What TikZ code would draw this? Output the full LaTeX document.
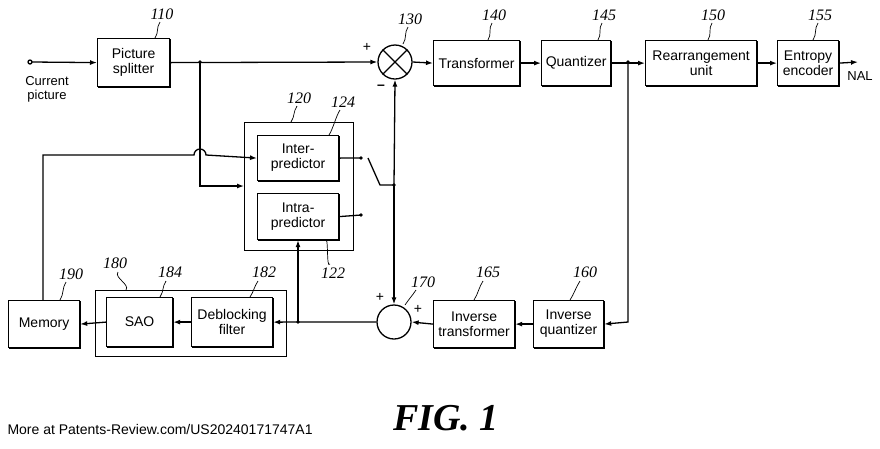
\documentclass[tikz,border=0pt]{standalone}
\usepackage{fontspec}
\setmainfont{Liberation Sans}
\newfontfamily\numfont{Liberation Serif}
\usetikzlibrary{arrows.meta,calc}
\begin{document}
\begin{tikzpicture}[x=1pt,y=-1pt,
  blk/.style={draw,line width=1.2pt,fill=white,align=center,font=\fontsize{14}{15}\selectfont,inner sep=1pt},
  ln/.style={line width=1.3pt},
  grp/.style={line width=0.8pt},
  ar/.style={ln,-{Latex[length=7pt,width=5pt]}},
  num/.style={font=\numfont\itshape\fontsize{16}{16}\selectfont},
  lead/.style={line width=0.7pt}]
\useasboundingbox (0,0) rectangle (880,448);
\newcommand{\mybox}[6]{%
 \draw[line width=2.6pt] (#1+1,#4) -- (#3,#4) -- (#3,#2+1);
 \node[blk,minimum width=#3-#1-1,minimum height=#4-#2-1,anchor=north west] (#5) at (#1,#2) {#6};}
% outer group boxes
\draw[grp] (244,122) rectangle (353,250);
\draw[grp] (95,290) rectangle (286,356);
\mybox{97}{38}{170}{87}{ps}{Picture\\splitter}
\mybox{433}{40}{520}{86}{tr}{Transformer}
\mybox{541}{40}{611}{86}{qu}{Quantizer}
\mybox{645}{40}{757}{86}{ra}{Rearrangement\\unit}
\mybox{777}{40}{839}{86}{ee}{Entropy\\encoder}
\mybox{257}{135}{339}{181}{inter}{Inter-\\predictor}
\mybox{257}{193}{339}{240}{intra}{Intra-\\predictor}
\mybox{433}{300}{515}{348}{it}{Inverse\\transformer}
\mybox{533}{300}{604}{348}{iq}{Inverse\\quantizer}
\mybox{191}{297}{273}{347}{db}{Deblocking\\filter}
\mybox{106}{297}{173}{347}{sao}{SAO}
\mybox{8}{300}{80}{348}{mem}{Memory}
% circles
\node[draw,ln,circle,minimum size=34pt,inner sep=0] (mul) at (395,62) {};
\draw[ln] (mul.north west) -- (mul.south east) (mul.north east) -- (mul.south west);
\node[draw,ln,circle,minimum size=34pt,inner sep=0] (add) at (394,322) {};
% input
\coordinate (in) at (30,62);
\draw[ln] (in) circle (2pt);
\node[font=\fontsize{13}{14}\selectfont,align=center] at (47,89) {Current\\picture};
\draw[ar] (32,62) -- (ps.west);
\coordinate (j1) at (200,62);
\fill (j1) circle (1.8pt);
\draw[ar] (ps.east) -- (mul.west);
\draw[ar] (mul.east) -- (tr.west);
\draw[ar] (tr.east) -- (qu.west);
\draw[ar] (qu.east) -- (ra.west);
\draw[ar] (ra.east) -- (ee.west);
\coordinate (out) at (858,62);
\draw[ar] (ee.east) -- (out);
\node[font=\fontsize{13}{14}\selectfont] at (860,76) {NAL};
% splitter to predictor
\draw[ar] (j1) -- (200,186) -- (244,186);
% memory to inter
\draw[ar] (mem.north -| 43,300) -- (43,155) -- (194,155) arc[start angle=180,end angle=0,radius=6pt] -- (inter.west);
% switch
\coordinate (s1) at (361,158); \coordinate (s2) at (361,215);
\draw[ln] (inter.east) -- (s1); \fill (s1) circle (1.8pt);
\draw[ln] (intra.east) -- (s2); \fill (s2) circle (1.8pt);
\coordinate (sw) at (394,185);
\draw[ln] (368,158) -- (380,185) -- (sw);
\fill (sw) circle (1.8pt);
\draw[ar] (sw) -- (mul.south);
\draw[ar] (sw) -- (add.north);
% feedback
\coordinate (j2) at (628,62); \fill (j2) circle (1.8pt);
\draw[ar] (j2) -- (628,322) -- (iq.east);
\draw[ar] (iq.west) -- (it.east);
\draw[ar] (it.west) -- (add.east);
\coordinate (j3) at (298,322); \fill (j3) circle (1.8pt);
\draw[ar] (add.west) -- (db.east);
\draw[ar] (j3) -- (intra.south -| 298,240);
\draw[ar] (db.west) -- (sao.east);
\draw[ar] (sao.west) -- (mem.east);
% signs
\node[font=\fontsize{14}{14}\selectfont] at (367,47) {+};
\node[font=\fontsize{14}{14}\selectfont] at (381,87) {\textbf{--}};
\node[font=\fontsize{14}{14}\selectfont] at (380,297) {+};
\node[font=\fontsize{14}{14}\selectfont] at (418,309) {+};
% reference numerals
\newcommand{\refn}[5]{\node[num] at (#1,#2) {#3};
 \draw[lead] (#4) .. controls ($(#4)+(4,-6)$) and ($(#5)+(-4,6)$) .. (#5);}
\refn{162}{14}{110}{155,38}{160,22}
\refn{410}{19}{130}{403,44}{408,27}
\refn{494}{15}{140}{488,40}{492,23}
\refn{604}{15}{145}{598,40}{602,23}
\refn{713}{15}{150}{708,40}{712,23}
\refn{820}{15}{155}{813,40}{818,23}
\refn{299}{98}{120}{291,122}{297,106}
\refn{343}{102}{124}{329,135}{340,110}
\refn{333}{273}{122}{325,240}{330,264}
\refn{71}{274}{190}{60,300}{66,282}
\refn{115}{263}{180}{126,290}{118,272}
\refn{170}{272}{184}{160,297}{166,281}
\refn{264}{272}{182}{250,297}{258,281}
\refn{423}{282}{170}{405,305}{416,290}
\refn{488}{272}{165}{474,300}{483,281}
\refn{585}{272}{160}{570,300}{580,281}
% footer
\node[anchor=west,font=\fontsize{14}{15}\selectfont] at (4,429) {More at Patents-Review.com/US20240171747A1};
\node[font=\numfont\bfseries\itshape\fontsize{38}{38}\selectfont] at (446,418) {FIG. 1};
\end{tikzpicture}
\end{document}
